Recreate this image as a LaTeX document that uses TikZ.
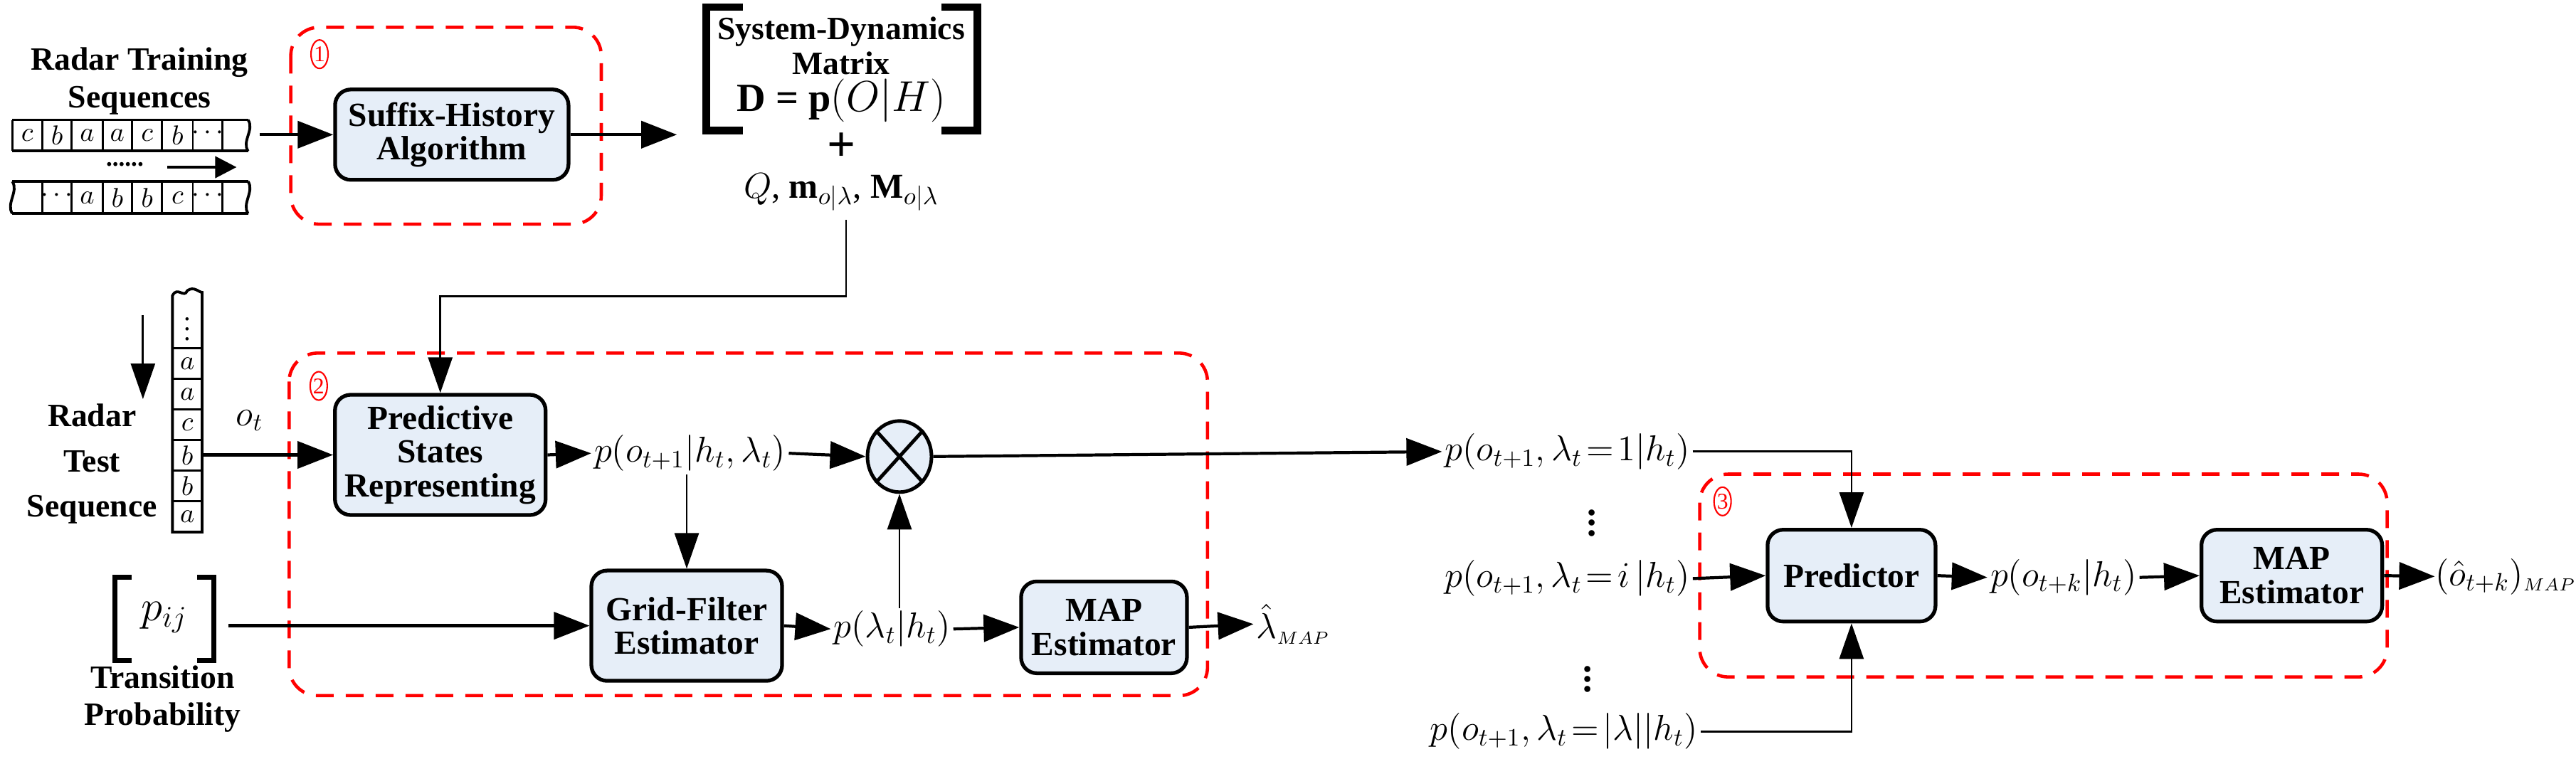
\documentclass[tikz,border=0pt]{standalone}
\usepackage{fontspec}
\setmainfont{Liberation Serif}
\usetikzlibrary{arrows.meta,shapes.geometric}
\definecolor{boxblue}{HTML}{E6EEF8}
\begin{document}
\begin{tikzpicture}[x=0.023087cm,y=-0.023087cm,
 blk/.style={draw,line width=1.5pt,rounded corners=0.22cm,fill=boxblue,align=center,font=\bfseries\fontsize{13.5}{13.5}\selectfont,inner sep=1pt},
 arr/.style={line width=1.2pt,-{Triangle[length=0.5cm,width=0.38cm]}},
 varr/.style={line width=0.8pt,-{Triangle[length=0.5cm,width=0.34cm]}},
 redbox/.style={draw=red,line width=1.3pt,dash pattern=on 0.25cm off 0.17cm,rounded corners=0.4cm},
 lab/.style={font=\fontsize{14}{14}\selectfont,inner sep=1pt},
 txt/.style={align=center,font=\bfseries\fontsize{13}{13}\selectfont,inner sep=0pt},
 num/.style={draw=red,text=red,ellipse,line width=0.6pt,inner sep=0pt,minimum width=0.24cm,minimum height=0.4cm,font=\fontsize{9}{9}\selectfont},
 cell/.style={font=\fontsize{11}{11}\selectfont,inner sep=0pt},
 vd/.style={font=\bfseries\fontsize{15}{15}\selectfont,inner sep=0pt},
 tape/.style={line width=1.1pt}]
\useasboundingbox (0,0) rectangle (1568,462);

% red dashed groups
\draw[redbox] (177,16.6) rectangle (366,136.5);
\draw[redbox] (176,215) rectangle (735,423.6);
\draw[redbox] (1034.6,288.7) rectangle (1453,412.2);
\node[num] (n1) at (194.5,33) {1};
\node[num] (n2) at (194,235) {2};
\node[num] (n3) at (1048.5,305.3) {3};

% training sequences
\node[txt] (rts) at (85,49.5) {Radar Training\\[2pt]Sequences};
\draw[tape] (7.5,73) -- (151,73) (7.5,92) -- (151,92);
\draw[tape] (151,73) .. controls (155,79) and (147,86) .. (151,92);
\foreach \x in {7.5,25.8,43.7,62.5,80.4,98.7,117.4,135.3} \draw[line width=0.8pt] (\x,73) -- (\x,92);
\foreach \x/\c in {16.6/c,34.7/b,53.1/a,71.4/a,89.5/c,108/b} \node[cell] at (\x,82.5) {$\c$};
\node[cell] at (126.3,81) {$\cdots$};
\node[font=\bfseries] (dots) at (76,100) {......};
\coordinate (da) at (102,101.8);
\coordinate (db) at (144,101.8);
\draw[line width=1.2pt,-{Triangle[length=0.3cm,width=0.3cm]}] (da) -- (db);
\draw[tape] (7.5,110.5) -- (151,110.5) (7.5,130) -- (151,130);
\draw[tape] (7.5,110.5) .. controls (11.5,116.5) and (3.5,124) .. (7.5,130);
\draw[tape] (151,110.5) .. controls (155,116.5) and (147,124) .. (151,130);
\foreach \x in {25.8,43.7,62.5,80.4,98.7,117.4,135.3} \draw[line width=0.8pt] (\x,110.5) -- (\x,130);
\foreach \x/\c in {53.1/a,71.4/b,89.5/b,108/c} \node[cell] at (\x,120.5) {$\c$};
\node[cell] at (34.7,119) {$\cdots$};
\node[cell] at (126.3,119) {$\cdots$};

\node[blk,minimum width=3.28cm,minimum height=1.27cm] (box1) at (275,82) {Suffix-History\\Algorithm};
\coordinate (t1e) at (158,82);
\draw[arr] (t1e) -- (box1.west);
\coordinate (mtip) at (412,82);
\draw[arr] (box1.east) -- (mtip);

% matrix
\draw[line width=3pt] (452,4.3) -- (430,4.3) -- (430,79.4) -- (452,79.4);
\draw[line width=3pt] (573,4.3) -- (595,4.3) -- (595,79.4) -- (573,79.4);
\node[txt] (mat) at (512,28) {System-Dynamics\\[1pt]Matrix};
\node[lab,font=\fontsize{16}{16}\selectfont] (dm) at (512,61.4) {$\mathbf{D}$ \textbf{=} $\mathbf{p}(O|H)$};
\node[font=\bfseries\fontsize{20}{20}\selectfont] (plus) at (512,89.5) {+};
\node[lab] (qm) at (512,117) {$Q$, $\mathbf{m}_{o|\lambda}$, $\mathbf{M}_{o|\lambda}$};
\coordinate (qb) at (515,134);
\coordinate (c1) at (268,180.5);

% test sequence
\node[txt] (rtest) at (56,282.5) {Radar\\[5pt]Test\\[5pt]Sequence};
\draw[tape] (105,180) .. controls (108,174) and (112,182) .. (114,177) .. controls (118,174) and (121,178) .. (123,178) -- (123,324) -- (105,324) -- cycle;
\foreach \y in {212,230.7,249.3,268,286.7,305.3} \draw[line width=0.8pt] (105,\y) -- (123,\y);
\node[cell] at (114,196) {$\vdots$};
\foreach \y/\c in {221.3/a,240/a,258.7/c,277.3/b,296/b,314.7/a} \node[cell] at (114,\y) {$\c$};
\coordinate (ds) at (87,192);
\coordinate (de) at (87,243);
\draw[varr] (ds) -- (de);
\node[lab] (ot) at (152,256) {$o_t$};

\node[blk,minimum width=2.96cm,minimum height=1.69cm] (pred) at (268,277) {Predictive\\States\\Representing};
\coordinate (tt) at (123,277);
\draw[arr] (tt) -- (pred.west);
\draw[varr] (qb) |- (c1) -- (pred.north);

\node[lab] (plab) at (420,276) {$p(o_{t+1}|h_t,\lambda_t)$};
\draw[arr] (pred.east) -- (plab.west);
\node[draw,ellipse,line width=1.4pt,fill=boxblue,minimum width=0.9cm,minimum height=1cm,inner sep=0pt] (ot2) at (547.5,278) {};
\draw[line width=1.4pt] (ot2.north west) -- (ot2.south east) (ot2.north east) -- (ot2.south west);
\draw[arr] (plab.east) -- (ot2.west);

\node[blk,minimum width=2.68cm,minimum height=1.55cm] (grid) at (418,381) {Grid-Filter\\Estimator};
\draw[varr] (plab.south -| grid.north) -- (grid.north);

\draw[line width=2pt] (80,351.6) -- (70,351.6) -- (70,402) -- (80,402);
\draw[line width=2pt] (120,351.6) -- (130,351.6) -- (130,402) -- (120,402);
\node[lab,font=\fontsize{17}{17}\selectfont] (pij) at (100,376) {$p_{ij}$};
\node[txt] (tp) at (99,425.6) {Transition\\[2pt]Probability};
\coordinate (pe) at (139,381);
\draw[arr] (pe) -- (grid.west);

\node[lab] (llab) at (543,383) {$p(\lambda_t|h_t)$};
\draw[arr] (grid.east) -- (llab.west);
\draw[varr] (ot2.south |- llab.north) -- (ot2.south);
\node[blk,minimum width=2.33cm,minimum height=1.29cm] (map1) at (672,382) {MAP\\Estimator};
\draw[arr] (llab.east) -- (map1.west);
\node[lab,anchor=west] (lhat) at (763,380) {$\hat{\lambda}_{\scriptscriptstyle MAP}$};
\draw[arr] (map1.east) -- (lhat.west);

% right part
\node[lab] (r1) at (954,275) {$p(o_{t+1},\lambda_t\!=\!1|h_t)$};
\node[lab] (r2) at (954,352.3) {$p(o_{t+1},\lambda_t\!=\!i\,|h_t)$};
\node[lab] (r3) at (952,445.4) {$p(o_{t+1},\lambda_t\!=\!|\lambda||h_t)$};
\node[vd] (vd1) at (968.8,314) {$\vdots$};
\node[vd] (vd2) at (966.5,409) {$\vdots$};
\draw[arr] (ot2.east) -- (r1.west);

\node[blk,minimum width=2.36cm,minimum height=1.29cm] (prd) at (1127,350.5) {Predictor};
\draw[varr] (r1.east) -| (prd.north);
\draw[arr] (r2.east) -- (prd.west);
\draw[varr] (r3.east) -| (prd.south);
\node[lab] (klab) at (1256,351.6) {$p(o_{t+k}|h_t)$};
\draw[arr] (prd.east) -- (klab.west);
\node[blk,minimum width=2.54cm,minimum height=1.29cm] (map2) at (1395,350.5) {MAP\\Estimator};
\draw[arr] (klab.east) -- (map2.west);
\node[lab,anchor=west,inner sep=0pt] (out) at (1482,351) {$(\hat{o}_{t+k})_{\scriptscriptstyle MAP}$};
\draw[arr] (map2.east) -- (out.west);
\end{tikzpicture}
\end{document}
